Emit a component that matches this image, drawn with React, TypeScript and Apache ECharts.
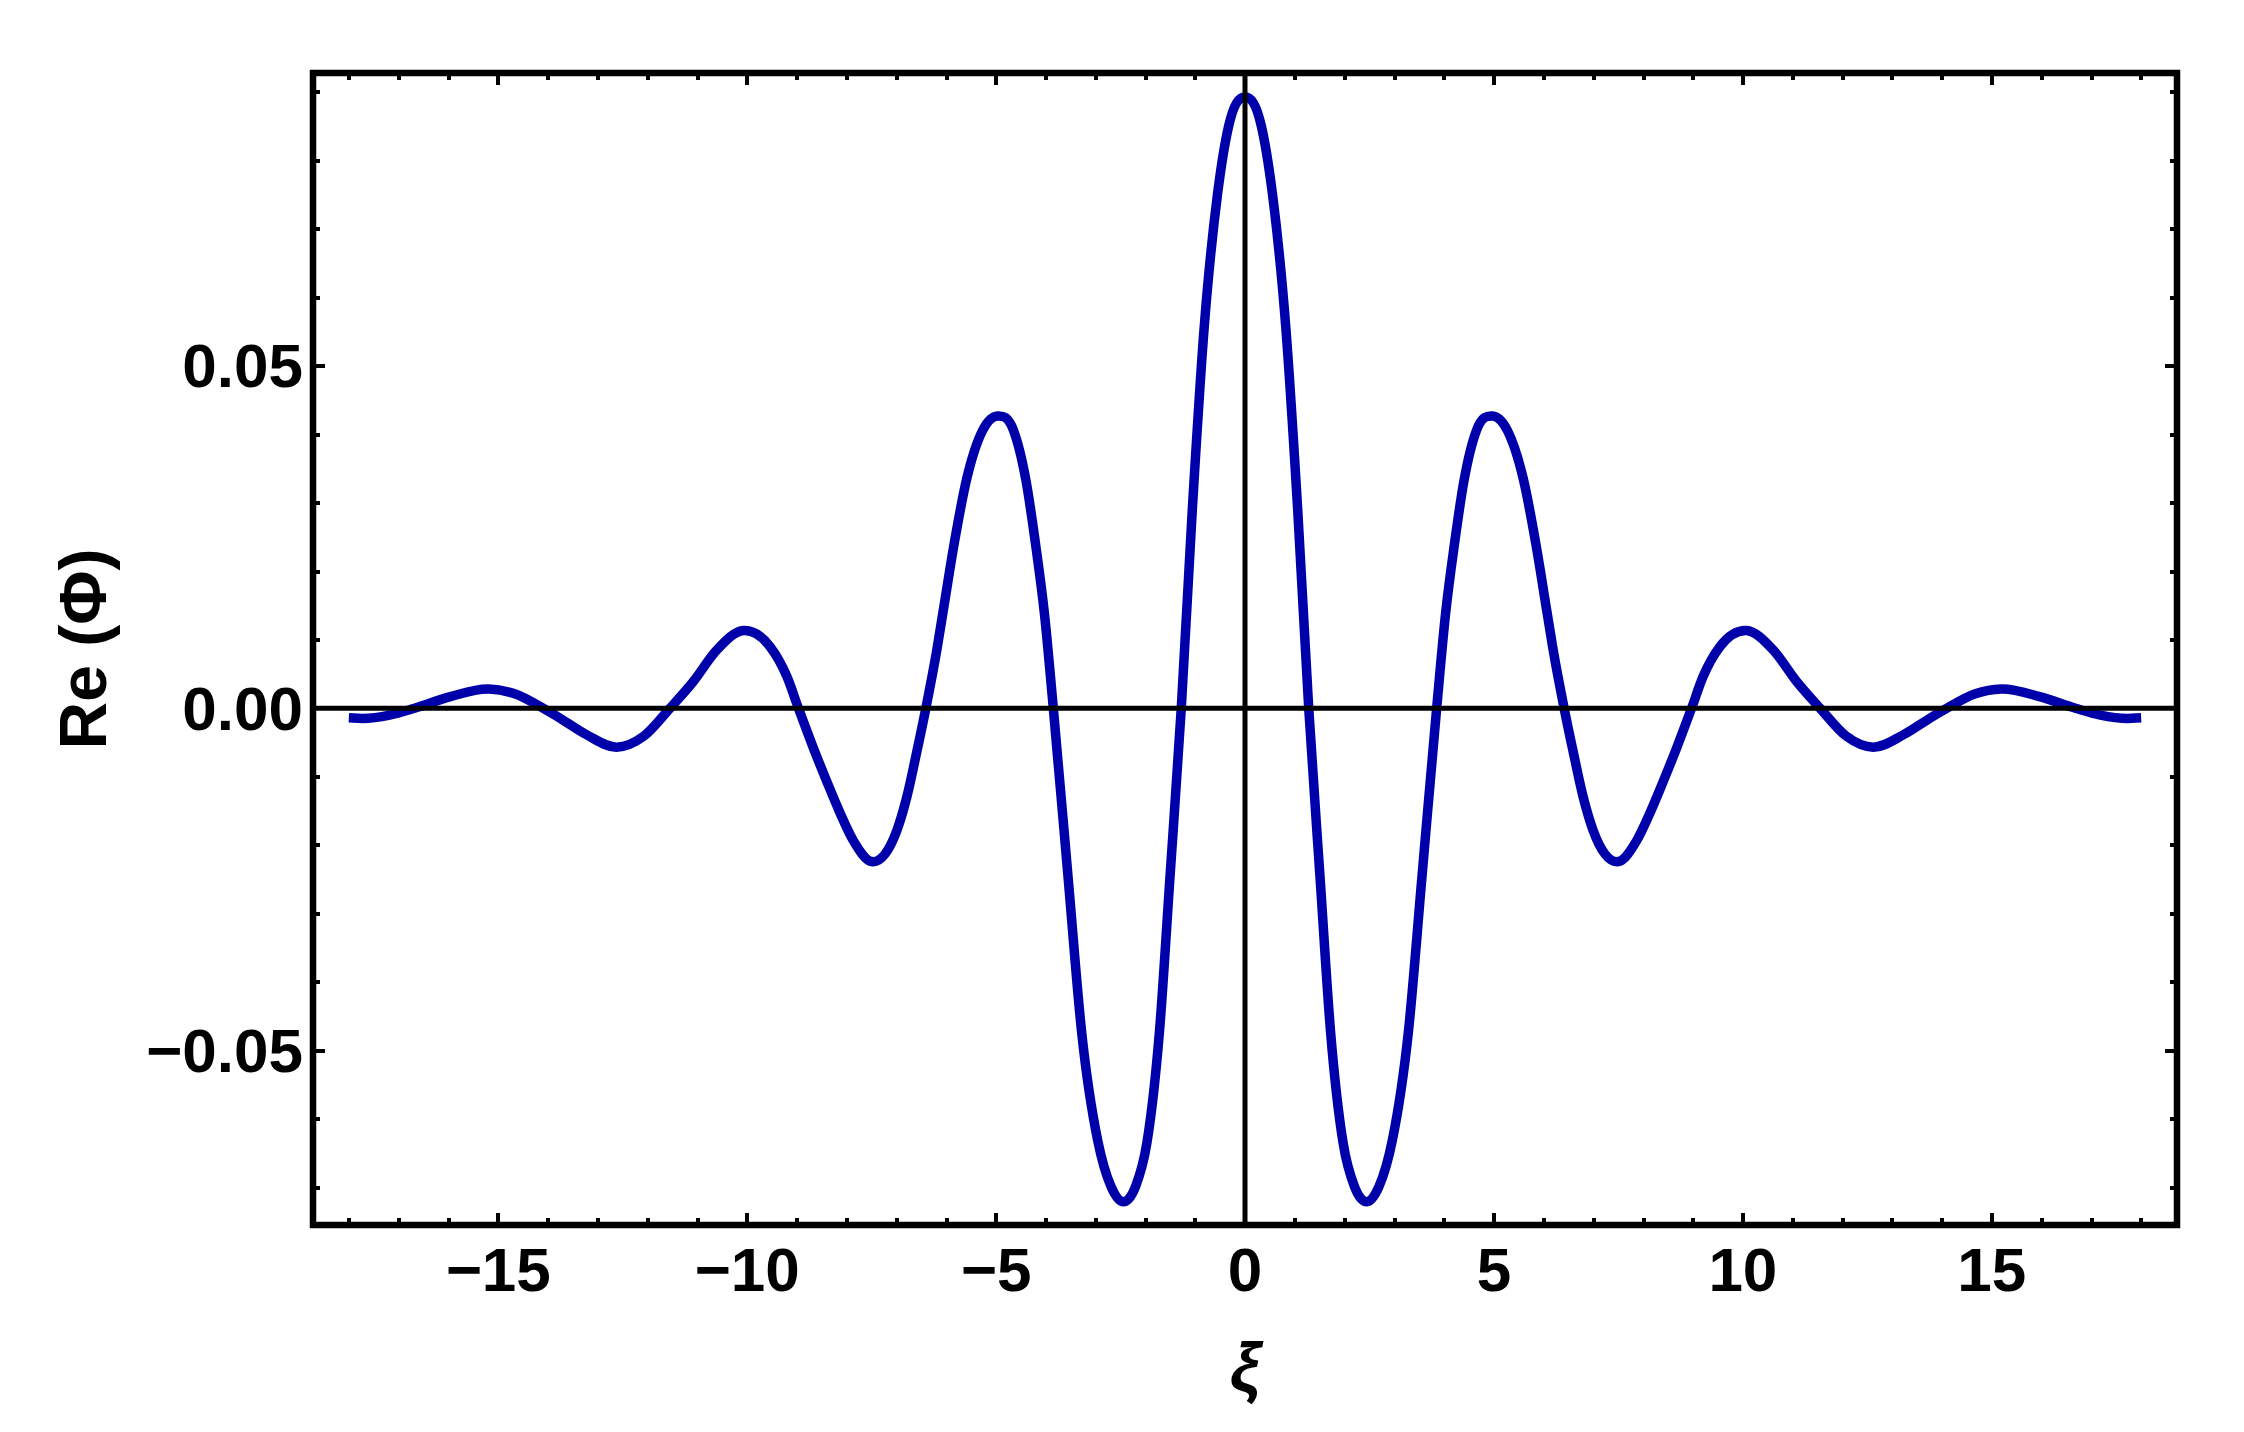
import React, { useEffect, useRef } from "react";
import * as echarts from "echarts";

// ξ positions and Re(Φ) values
const xiValues = [
  -18.0, -17.72, -17.18, -16.68, -15.96, -15.19, -14.67, -14.1, -13.75, -13.22, -12.62, -12.08,
  -11.55, -11.08, -10.61, -10.07, -9.54, -9.2, -8.97, -8.67, -8.4, -8.14, -7.87, -7.5, -7.23,
  -6.99, -6.79, -6.59, -6.41, -6.19, -6.06, -5.84, -5.59, -5.27, -4.97, -4.65, -4.4, -4.2, -4.03,
  -3.85, -3.55, -3.28, -2.96, -2.69, -2.45, -2.2, -1.97, -1.72, -1.51, -1.28, -1.06, -0.82, -0.55,
  -0.33, 0.0,
  0.33, 0.55, 0.82, 1.06, 1.28, 1.51, 1.72, 1.97, 2.2, 2.45, 2.69, 2.96, 3.28, 3.55, 3.85,
  4.03, 4.2, 4.4, 4.65, 4.97, 5.27, 5.59, 5.84, 6.06, 6.19, 6.41, 6.59, 6.79, 6.99, 7.23, 7.5,
  7.87, 8.14, 8.4, 8.67, 8.97, 9.2, 9.54, 10.07, 10.61, 11.08, 11.55, 12.08, 12.62, 13.22, 13.75,
  14.1, 14.67, 15.19, 15.96, 16.68, 17.18, 17.72, 18.0,
];
const reValues = [
  -0.0014, -0.0015, -0.001, 0.0, 0.0017, 0.0028, 0.0021, 0.0, -0.0015, -0.0039, -0.0057, -0.0041,
  0.0, 0.0039, 0.0085, 0.01135, 0.009, 0.0046, 0.0, -0.0058, -0.0107, -0.0152, -0.0193, -0.0224, -0.0213,
  -0.0178, -0.0129, -0.0063, 0.0, 0.0085, 0.0143, 0.0241, 0.0335, 0.0406, 0.0427, 0.0406, 0.0333, 0.0236, 0.0139,
  0.0, -0.025, -0.0474, -0.0631, -0.0699, -0.0721, -0.0699, -0.0635, -0.0474, -0.025, 0.0, 0.0288, 0.0556, 0.0752,
  0.085, 0.0893,
  0.085, 0.0752, 0.0556, 0.0288, 0.0, -0.025, -0.0474, -0.0635, -0.0699, -0.0721, -0.0699, -0.0631, -0.0474, -0.025, 0.0,
  0.0139, 0.0236, 0.0333, 0.0406, 0.0427, 0.0406, 0.0335, 0.0241, 0.0143, 0.0085, 0.0, -0.0063, -0.0129, -0.0178, -0.0213, -0.0224,
  -0.0193, -0.0152, -0.0107, -0.0058, 0.0, 0.0046, 0.009, 0.01135, 0.0085, 0.0039, 0.0, -0.0041, -0.0057, -0.0039, -0.0015,
  0.0, 0.0021, 0.0028, 0.0017, 0.0, -0.001, -0.0015, -0.0014,
];

const xMajorTicks = [-15, -10, -5, 0, 5, 10, 15];
const xMinorTicks = [
  -18, -17, -16, -14, -13, -12, -11, -9, -8, -7, -6, -4, -3, -2, -1,
  1, 2, 3, 4, 6, 7, 8, 9, 11, 12, 13, 14, 16, 17, 18,
];
const yMajorTicks = [-0.05, 0, 0.05];
const yMinorTicks = [-0.07, -0.06, -0.04, -0.03, -0.02, -0.01, 0.01, 0.02, 0.03, 0.04, 0.06, 0.07, 0.08, 0.09];
const xRange = [-18.72, 18.72];
const yRange = [-0.0755, 0.0928];
const xTitle = "ξ";
const yTitle = "Re (Φ)";

const FONT = "'Liberation Sans', Arial, Helvetica, sans-serif";
const fmtMinus = (s: string) => s.replace("-", "\u2212");

function tickAxis(
  position: string,
  range: number[],
  ticks: number[],
  length: number,
  labels: number[] | null,
  formatter: (v: number) => string,
  margin: number,
  extra: any = {}
) {
  return {
    type: "value",
    position,
    min: range[0],
    max: range[1],
    axisLine: { show: false, onZero: false },
    splitLine: { show: false },
    minorTick: { show: false },
    axisTick: {
      show: true,
      inside: true,
      length,
      customValues: ticks,
      lineStyle: { color: "#000", width: 4 },
    },
    axisLabel: labels
      ? {
          show: true,
          customValues: labels,
          formatter,
          margin,
          color: "#000",
          fontSize: 62,
          fontWeight: "bold",
          fontFamily: FONT,
        }
      : { show: false },
    ...extra,
  };
}

// Smooth cubic Hermite path through the mapped data points (three-point tangents)
function curvePath(pts: number[][]) {
  const n = pts.length;
  const h: number[] = [];
  const d: number[] = [];
  for (let i = 0; i < n - 1; i++) {
    h[i] = pts[i + 1][0] - pts[i][0];
    d[i] = (pts[i + 1][1] - pts[i][1]) / h[i];
  }
  const m: number[] = new Array(n);
  m[0] = d[0];
  m[n - 1] = d[n - 2];
  for (let i = 1; i < n - 1; i++) {
    m[i] = (h[i] * d[i - 1] + h[i - 1] * d[i]) / (h[i - 1] + h[i]);
  }
  let p = `M${pts[0][0]} ${pts[0][1]}`;
  for (let i = 0; i < n - 1; i++) {
    const t = h[i] / 3;
    p +=
      ` C${pts[i][0] + t} ${pts[i][1] + m[i] * t}` +
      ` ${pts[i + 1][0] - t} ${pts[i + 1][1] - m[i + 1] * t}` +
      ` ${pts[i + 1][0]} ${pts[i + 1][1]}`;
  }
  return p;
}

export default function App() {
  const ref = useRef<HTMLDivElement>(null);
  useEffect(() => {
    if (!ref.current) return;
    const chart = echarts.init(ref.current, undefined, { renderer: "svg" });
    const xFmt = (v: number) => fmtMinus(String(Math.round(v)));
    const yFmt = (v: number) => fmtMinus(v.toFixed(2));
    const data = xiValues.map((x, i) => [x, reValues[i]]);
    chart.setOption({
      animation: false,
      backgroundColor: "#fff",
      grid: {
        left: 313,
        right: 67,
        top: 73,
        bottom: 207,
        show: true,
        borderColor: "#000",
        borderWidth: 6.5,
        backgroundColor: "transparent",
      },
      xAxis: [
        tickAxis("bottom", xRange, xMajorTicks, 12, xMajorTicks, xFmt, 13, {
          name: xTitle,
          nameLocation: "middle",
          nameGap: 108,
          nameTextStyle: {
            color: "#000",
            fontSize: 68,
            fontWeight: "bold",
            fontStyle: "italic",
            fontFamily: FONT,
          },
        }),
        tickAxis("bottom", xRange, xMinorTicks, 7, null, xFmt, 0),
        tickAxis("top", xRange, xMajorTicks, 12, null, xFmt, 0),
        tickAxis("top", xRange, xMinorTicks, 7, null, xFmt, 0),
      ],
      yAxis: [
        tickAxis("left", yRange, yMajorTicks, 12, yMajorTicks, yFmt, 10, {
          name: yTitle,
          nameLocation: "middle",
          nameGap: 197,
          nameRotate: 90,
          nameTextStyle: {
            color: "#000",
            fontSize: 66,
            fontWeight: "bold",
            fontFamily: FONT,
          },
        }),
        tickAxis("left", yRange, yMinorTicks, 7, null, yFmt, 0),
        tickAxis("right", yRange, yMajorTicks, 12, null, yFmt, 0),
        tickAxis("right", yRange, yMinorTicks, 7, null, yFmt, 0),
      ],
      series: [
        {
          type: "custom",
          xAxisIndex: 0,
          yAxisIndex: 0,
          data,
          encode: { x: 0, y: 1 },
          silent: true,
          renderItem: (params: any, api: any) => {
            if (params.dataIndex !== 0) return null;
            const pts = data.map((p) => api.coord(p));
            const xTop = api.coord([0, yRange[1]]);
            const xBot = api.coord([0, yRange[0]]);
            const yL = api.coord([xRange[0], 0]);
            const yR = api.coord([xRange[1], 0]);
            return {
              type: "group",
              children: [
                {
                  type: "path",
                  shape: { pathData: curvePath(pts) },
                  style: {
                    fill: "none",
                    stroke: "#0000aa",
                    lineWidth: 9.5,
                    lineJoin: "round",
                  },
                },
                {
                  type: "line",
                  shape: { x1: yL[0], y1: yL[1], x2: yR[0], y2: yR[1] },
                  style: { stroke: "#000", lineWidth: 5 },
                },
                {
                  type: "line",
                  shape: { x1: xTop[0], y1: xTop[1], x2: xBot[0], y2: xBot[1] },
                  style: { stroke: "#000", lineWidth: 5 },
                },
              ],
            };
          },
        },
      ],
    });
    return () => chart.dispose();
  }, []);
  return (
    <div
      ref={ref}
      style={{ position: "fixed", left: 0, top: 0, width: 2244, height: 1432, background: "#fff" }}
    />
  );
}
